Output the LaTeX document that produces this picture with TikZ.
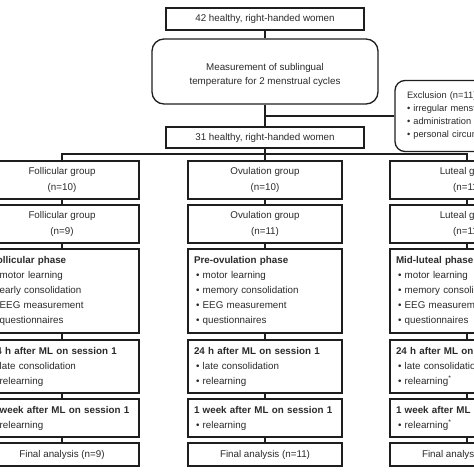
\documentclass[tikz,border=0pt]{standalone}
\usepackage{fontspec}
\setmainfont{Liberation Sans}
\definecolor{framecol}{HTML}{1E1E1E}
\definecolor{textcol}{HTML}{2A2A2A}
\newcommand{\bpoint}{\hspace*{2pt}\textbullet\ }
\tikzset{
  box/.style={draw=framecol, line width=1.3pt, text=textcol, inner sep=0pt,
    align=center, font=\fontsize{9.8}{14}\selectfont},
  groupbox/.style={box, minimum width=154pt, minimum height=38pt,
    font=\fontsize{9.8}{16}\selectfont},
  stagebox/.style={box, minimum width=154pt, text width=142pt, align=left,
    font=\fontsize{9.8}{15}\selectfont},
  link/.style={draw=framecol, line width=1.3pt}
}

\begin{document}
\begin{tikzpicture}[x=1pt,y=-1pt]

            \useasboundingbox (0,0) rectangle (474,474);
            \clip (0,0) rectangle (474,474);

            % recruitment

            \node[box, minimum width=198pt, minimum height=22pt] (start) at (265, 19)
                {42 healthy, right-handed women};

            \node[box, rounded corners=12pt, minimum width=226pt, minimum height=65pt] (temp) at (265, 71.5)
                {\rule{0pt}{14pt}Measurement of sublingual\\temperature for 2 menstrual cycles};

            \node[box, rounded corners=10pt, minimum width=200pt, minimum height=71pt,
                text width=176pt, align=left, font=\fontsize{9.3}{13}\selectfont] (excl) at (495, 116)
                {Exclusion (n=11)\\
                 \textbullet\ irregular menstrual cycle\\
                 \textbullet\ administration of medication\\
                 \textbullet\ personal circumstances};

            \node[box, minimum width=198pt, minimum height=21pt] (sample) at (265, 137.5)
                {31 healthy, right-handed women};

            \coordinate (split) at (265, 116);
            \coordinate (fork) at (265, 154);

            % follicular group

            \node[groupbox] (fol1) at (62, 180) {Follicular group\\(n=10)};
            \node[groupbox] (fol2) at (62, 224) {Follicular group\\(n=9)};
            \node[stagebox, minimum height=84pt] (fol3) at (62, 291)
                {\textbf{Follicular phase}\\
                 \bpoint motor learning\\
                 \bpoint early consolidation\\
                 \bpoint EEG measurement\\
                 \bpoint questionnaires};
            \node[stagebox, minimum height=53pt] (fol4) at (62, 366.5)
                {\textbf{24 h after ML on session 1}\\
                 \bpoint late consolidation\\
                 \bpoint relearning};
            \node[stagebox, minimum height=38pt] (fol5) at (62, 418)
                {\textbf{1 week after ML on session 1}\\
                 \bpoint relearning};
            \node[box, minimum width=154pt, minimum height=23pt] (fol6) at (62, 454.5)
                {Final analysis (n=9)};

            % ovulation group

            \node[groupbox] (ovu1) at (265, 180) {Ovulation group\\(n=10)};
            \node[groupbox] (ovu2) at (265, 224) {Ovulation group\\(n=11)};
            \node[stagebox, minimum height=84pt] (ovu3) at (265, 291)
                {\textbf{Pre-ovulation phase}\\
                 \bpoint motor learning\\
                 \bpoint memory consolidation\\
                 \bpoint EEG measurement\\
                 \bpoint questionnaires};
            \node[stagebox, minimum height=53pt] (ovu4) at (265, 366.5)
                {\textbf{24 h after ML on session 1}\\
                 \bpoint late consolidation\\
                 \bpoint relearning};
            \node[stagebox, minimum height=38pt] (ovu5) at (265, 418)
                {\textbf{1 week after ML on session 1}\\
                 \bpoint relearning};
            \node[box, minimum width=154pt, minimum height=23pt] (ovu6) at (265, 454.5)
                {Final analysis (n=11)};

            % luteal group

            \node[groupbox] (lut1) at (467, 180) {Luteal group\\(n=11)};
            \node[groupbox] (lut2) at (467, 224) {Luteal group\\(n=11)};
            \node[stagebox, minimum height=84pt] (lut3) at (467, 291)
                {\textbf{Mid-luteal phase}\\
                 \bpoint motor learning\\
                 \bpoint memory consolidation\\
                 \bpoint EEG measurement\\
                 \bpoint questionnaires};
            \node[stagebox, minimum height=53pt] (lut4) at (467, 366.5)
                {\textbf{24 h after ML on session 1}\\
                 \bpoint late consolidation\\
                 \bpoint relearning\textsuperscript{*}};
            \node[stagebox, minimum height=38pt] (lut5) at (467, 418)
                {\textbf{1 week after ML on session 1}\\
                 \bpoint relearning\textsuperscript{*}};
            \node[box, minimum width=154pt, minimum height=23pt] (lut6) at (467, 454.5)
                {Final analysis (n=11)};

            % connectors

            \path[link] (start) -- (temp);
            \path[link] (temp) -- (sample);
            \path[link] (split) -- (excl);
            \path[link] (sample) -- (fork);
            \path[link] (fol1.north) |- (fork) -| (lut1.north);
            \path[link] (fork) -- (ovu1);

            \foreach \col in {fol, ovu, lut} {
                \foreach \a/\b in {1/2, 2/3, 3/4, 4/5, 5/6} {
                    \path[link] (\col\a) -- (\col\b);
                }
            }
        \end{tikzpicture}
\end{document}
